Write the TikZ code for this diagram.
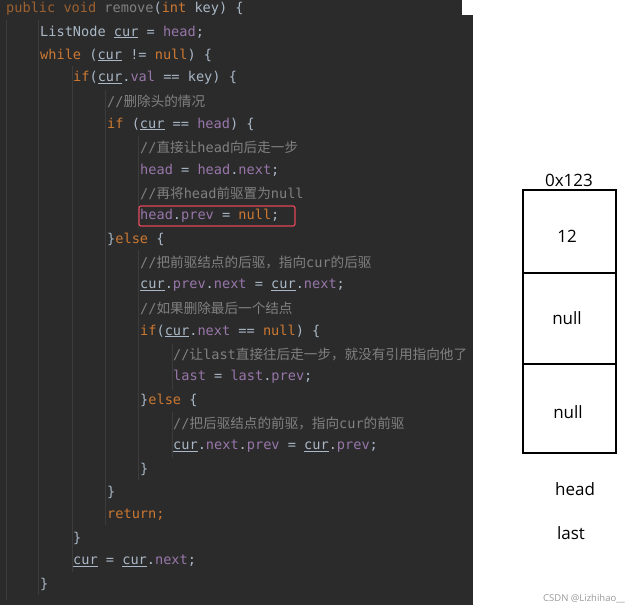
\documentclass[tikz,border=0pt]{standalone}
\usepackage{fontspec}
\newfontfamily\codefont{DejaVu Sans Mono}
\newfontfamily\cjk{Noto Sans CJK SC}
\newfontfamily\rfont{Open Sans}
\definecolor{bg}{HTML}{2B2B2B}
\definecolor{kwc}{HTML}{CC7832}
\definecolor{puc}{HTML}{9876AA}
\definecolor{txc}{HTML}{A9B7C6}
\definecolor{cmc}{HTML}{808080}
\definecolor{guide}{HTML}{3C3C3C}
\definecolor{boxred}{HTML}{E0485A}
\newcommand\kw[1]{\textcolor{kwc}{#1}}
\newcommand\pu[1]{\textcolor{puc}{#1}}
\newcommand\un[1]{\underline{#1}}
\newcommand\cm[1]{\textcolor{cmc}{#1}}
\begin{document}
\begin{tikzpicture}[x=1pt,y=-1pt,
  code/.style={anchor=west,inner sep=0pt,text=txc,font=\codefont\fontsize{13.6}{15}\selectfont},
  cell/.style={draw=black,line width=2pt,minimum width=93pt,inner sep=0pt},
  lab/.style={inner sep=0pt,font=\rfont\fontsize{17}{20}\selectfont}]
\useasboundingbox (0,0) rectangle (641,610);
\fill[white] (0,0) rectangle (641,610);
\fill[bg] (0,0) rectangle (473,605);
\fill[white] (462,0) rectangle (473,15);
% indent guides
\foreach \x/\a/\b in {6/20/600,38/20/595,72/66/572,105/90/525,138/136/228,138/250/480,172/344/390,172/412/458}
  \draw[guide,line width=0.8pt] (\x,\a) -- (\x,\b);
\node[code] (l1) at (6,9) {\textcolor{kwc!70!bg}{public void} \textcolor{cmc}{remove}(\kw{int} key) \{};
\node[code] (l2) at (40,32) {ListNode \un{cur} = \pu{head};};
\node[code] (l3) at (40,55) {\kw{while} (\un{cur} != \kw{null}) \{};
\node[code] (l4) at (73,78) {\kw{if}(\un{cur}.\pu{val} == key) \{};
\node[code] (l5) at (107,101) {\cm{//{\cjk 删除头的情况}}};
\node[code] (l6) at (107,124) {\kw{if} (\un{cur} == \pu{head}) \{};
\node[code] (l7) at (140,147) {\cm{//{\cjk 直接让}head{\cjk 向后走一步}}};
\node[code] (l8) at (140,170) {\pu{head} = \pu{head}.\pu{next};};
\node[code] (l9) at (140,193) {\cm{//{\cjk 再将}head{\cjk 前驱置为}null}};
\node[code] (l10) at (140,216) {\pu{head}.\pu{prev} = \kw{null};};
\draw[boxred,line width=1.2pt,rounded corners=2pt] ([xshift=-1pt]l10.west |- 0,206) rectangle (295,226);
\node[code] (l11) at (107,239) {\}\kw{else} \{};
\node[code] (l12) at (140,262) {\cm{//{\cjk 把前驱结点的后驱，指向}cur{\cjk 的后驱}}};
\node[code] (l13) at (140,285) {\un{cur}.\pu{prev}.\pu{next} = \un{cur}.\pu{next};};
\node[code] (l14) at (140,308) {\cm{//{\cjk 如果删除最后一个结点}}};
\node[code] (l15) at (140,331) {\kw{if}(\un{cur}.\pu{next} == \kw{null}) \{};
\node[code] (l16) at (173,354) {\cm{//{\cjk 让}last{\cjk 直接往后走一步，就没有引用指向他了}}};
\node[code] (l17) at (173,377) {\pu{last} = \pu{last}.\pu{prev};};
\node[code] (l18) at (140,400) {\}\kw{else} \{};
\node[code] (l19) at (173,423) {\cm{//{\cjk 把后驱结点的前驱，指向}cur{\cjk 的前驱}}};
\node[code] (l20) at (173,446) {\un{cur}.\pu{next}.\pu{prev} = \un{cur}.\pu{prev};};
\node[code] (l21) at (140,469) {\}};
\node[code] (l22) at (107,492) {\}};
\node[code] (l23) at (107,515) {\kw{return;}};
\node[code] (l24) at (73,538) {\}};
\node[code] (l25) at (73,561) {\un{cur} = \un{cur}.\pu{next};};
\node[code] (l26) at (40,584) {\}};
% memory cells
\node[cell,minimum height=83pt] (c1) at (569.5,231.5) {};
\node[cell,minimum height=91pt] (c2) at (569.5,318.5) {};
\node[cell,minimum height=89pt] (c3) at (569.5,408.5) {};
\node[lab] (v1) at (567,236) {12};
\node[lab] (v2) at (567,318) {null};
\node[lab] (v3) at (568,412) {null};
\node[lab] (addr) at (569,180) {0x123};
\node[lab] (head) at (575,489) {head};
\node[lab] (last) at (571,533) {last};
\node[inner sep=0pt,text=black!40,font=\rfont\fontsize{9.5}{12}\selectfont] (wm) at (584,599) {CSDN @Lizhihao\_\_};
\end{tikzpicture}
\end{document}
